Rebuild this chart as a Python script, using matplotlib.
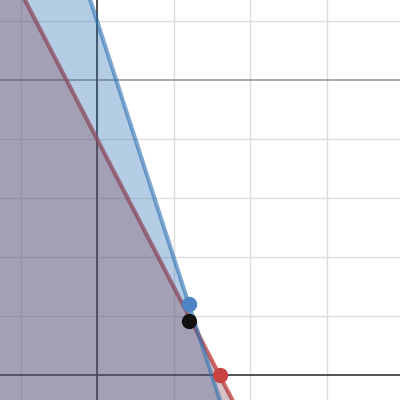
import numpy as np
import matplotlib
matplotlib.use('Agg')
from matplotlib import pyplot as plt

# lines: y = b + m*x
blue_b, blue_m = 6.0, -4.0
red_b, red_m = 4.0, -2.5
blue_pt = (1.2, 1.2)
red_pt = (1.6, 0.0)
black_pt = (1.2, 0.92)

xmin, xmax = -1.27, 3.96
ymin, ymax = -0.42, 6.36

fig = plt.figure(figsize=(4, 4), dpi=100)
ax = fig.add_axes([0, 0, 1, 1])
ax.set_xlim(xmin, xmax)
ax.set_ylim(ymin, ymax)
ax.axis('off')

for gx in np.arange(-1, 4):
    ax.axvline(gx, color='#dddddd', lw=1, zorder=0)
for gy in np.arange(1, 7):
    c = '#999999' if gy == 5 else '#dddddd'
    ax.axhline(gy, color=c, lw=1.2 if gy == 5 else 1, zorder=0)
ax.axhline(0, color='#333333', lw=1.2, zorder=1)
ax.axvline(0, color='#333333', lw=1.2, zorder=1)

x = np.linspace(xmin, xmax, 200)
yb = blue_b + blue_m * x
yr = red_b + red_m * x
ax.plot(x, yr, color='#c74440', lw=3, alpha=0.8, zorder=2)
ax.fill_between(x, ymin - 1, yb, color='#2d70b3', alpha=0.35, lw=0, zorder=3)
ax.fill_between(x, ymin - 1, yr, color='#7a3a4a', alpha=0.3, lw=0, zorder=3)
ax.plot(x, yb, color='#2d70b3', lw=3, alpha=0.6, zorder=4)

ax.plot(*blue_pt, 'o', color='#4f84c4', ms=10, zorder=5)
ax.plot(*red_pt, 'o', color='#c74440', ms=10, zorder=5)
ax.plot(*black_pt, 'o', color='#111111', ms=10, zorder=5)

fig.savefig('out.png')
